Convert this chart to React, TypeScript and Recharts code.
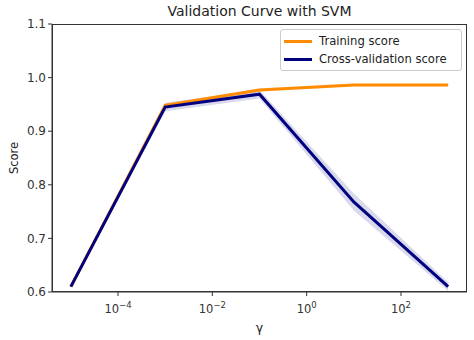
import { ComposedChart, Line, Area, XAxis, YAxis } from "recharts";

const gammas = [1e-5, 1e-3, 1e-1, 1e1, 1e3];
const trainMean = [0.61, 0.948, 0.977, 0.986, 0.986];
const trainStd = [0.002, 0.003, 0.003, 0.002, 0.002];
const cvMean = [0.61, 0.945, 0.969, 0.768, 0.61];
const cvStd = [0.003, 0.008, 0.008, 0.016, 0.008];
const xTicks = [1e-4, 1e-2, 1, 1e2];
const yTicks = [0.6, 0.7, 0.8, 0.9, 1.0, 1.1];

const chartData = gammas.map((g, i) => ({
  gamma: g,
  train: trainMean[i],
  trainBand: [trainMean[i] - trainStd[i], trainMean[i] + trainStd[i]],
  cv: cvMean[i],
  cvBand: [cvMean[i] - cvStd[i], cvMean[i] + cvStd[i]],
}));

const axisColor = "#333";
const font = "DejaVu Sans, sans-serif";

// plot box (matplotlib axes) in page pixels
const plotLeft = 52;
const plotTop = 24;
const plotRight = 467;
const plotBottom = 292;

function LogTick(props: any) {
  const { x, y, payload } = props;
  const exp = Math.round(Math.log10(payload.value));
  const sup = exp < 0 ? "\u2212" + Math.abs(exp) : String(exp);
  return (
    <text x={x} y={y + 15} textAnchor="middle" fill={axisColor} fontSize={11.5} fontFamily={font}>
      10
      <tspan dy={-5} fontSize={8.5}>
        {sup}
      </tspan>
    </text>
  );
}

function LegendBox() {
  const items = [
    { label: "Training score", color: "#ff8c00" },
    { label: "Cross-validation score", color: "#000080" },
  ];
  return (
    <div
      style={{
        position: "absolute",
        left: 280,
        top: 29,
        width: 182,
        height: 42,
        boxSizing: "border-box",
        border: "1px solid #ccc",
        borderRadius: 3,
        background: "rgba(255,255,255,0.8)",
        padding: "2px 0 0 3px",
        fontFamily: font,
        fontSize: 11.6,
        color: "#222",
        whiteSpace: "nowrap",
      }}
    >
      {items.map((it) => (
        <div key={it.label} style={{ display: "flex", alignItems: "center", height: 18 }}>
          <span
            style={{ display: "inline-block", width: 28, height: 3, background: it.color, marginRight: 7 }}
          />
          {it.label}
        </div>
      ))}
    </div>
  );
}

export default function App() {
  return (
    <div style={{ position: "absolute", left: 0, top: 0, width: 474, height: 340, background: "#fff" }}>
      <div
        style={{
          position: "absolute",
          top: 3,
          left: plotLeft,
          width: plotRight - plotLeft,
          textAlign: "center",
          fontFamily: font,
          fontSize: 14,
          color: "#222",
          lineHeight: "17px",
        }}
      >
        Validation Curve with SVM
      </div>
      <ComposedChart
        width={474}
        height={340}
        data={chartData}
        margin={{ top: plotTop, right: 474 - plotRight, left: 12, bottom: 340 - plotBottom - 30 }}
      >
        <XAxis
          dataKey="gamma"
          type="number"
          scale="log"
          domain={[Math.pow(10, -5.4), Math.pow(10, 3.4)]}
          allowDataOverflow
          ticks={xTicks}
          tick={<LogTick />}
          tickSize={4}
          stroke={axisColor}
          height={30}
          label={{ value: "\u03b3", position: "insideBottom", offset: -10, fill: "#222", fontSize: 12.5, fontFamily: font }}
        />
        <YAxis
          type="number"
          domain={[0.6, 1.1]}
          ticks={yTicks}
          tickFormatter={(v: number) => v.toFixed(1)}
          tick={{ fill: axisColor, fontSize: 12, fontFamily: font }}
          tickSize={4}
          stroke={axisColor}
          width={40}
          label={{
            value: "Score",
            angle: -90,
            position: "insideLeft",
            offset: 2,
            fill: "#222",
            fontSize: 11.5,
            fontFamily: font,
            style: { textAnchor: "middle" },
          }}
        />
        <Area
          dataKey="trainBand"
          stroke="none"
          fill="#ff8c00"
          fillOpacity={0.2}
          isAnimationActive={false}
          legendType="none"
        />
        <Area
          dataKey="cvBand"
          stroke="none"
          fill="#000080"
          fillOpacity={0.15}
          isAnimationActive={false}
          legendType="none"
        />
        <Line
          dataKey="train"
          stroke="#ff8c00"
          strokeWidth={3}
          dot={false}
          isAnimationActive={false}
        />
        <Line
          dataKey="cv"
          stroke="#000080"
          strokeWidth={3}
          dot={false}
          isAnimationActive={false}
        />
      </ComposedChart>
      <div
        style={{
          position: "absolute",
          left: plotLeft,
          top: plotTop,
          width: plotRight - plotLeft,
          height: plotBottom - plotTop,
          boxSizing: "border-box",
          border: `1px solid ${axisColor}`,
          pointerEvents: "none",
        }}
      />
      <LegendBox />
    </div>
  );
}
